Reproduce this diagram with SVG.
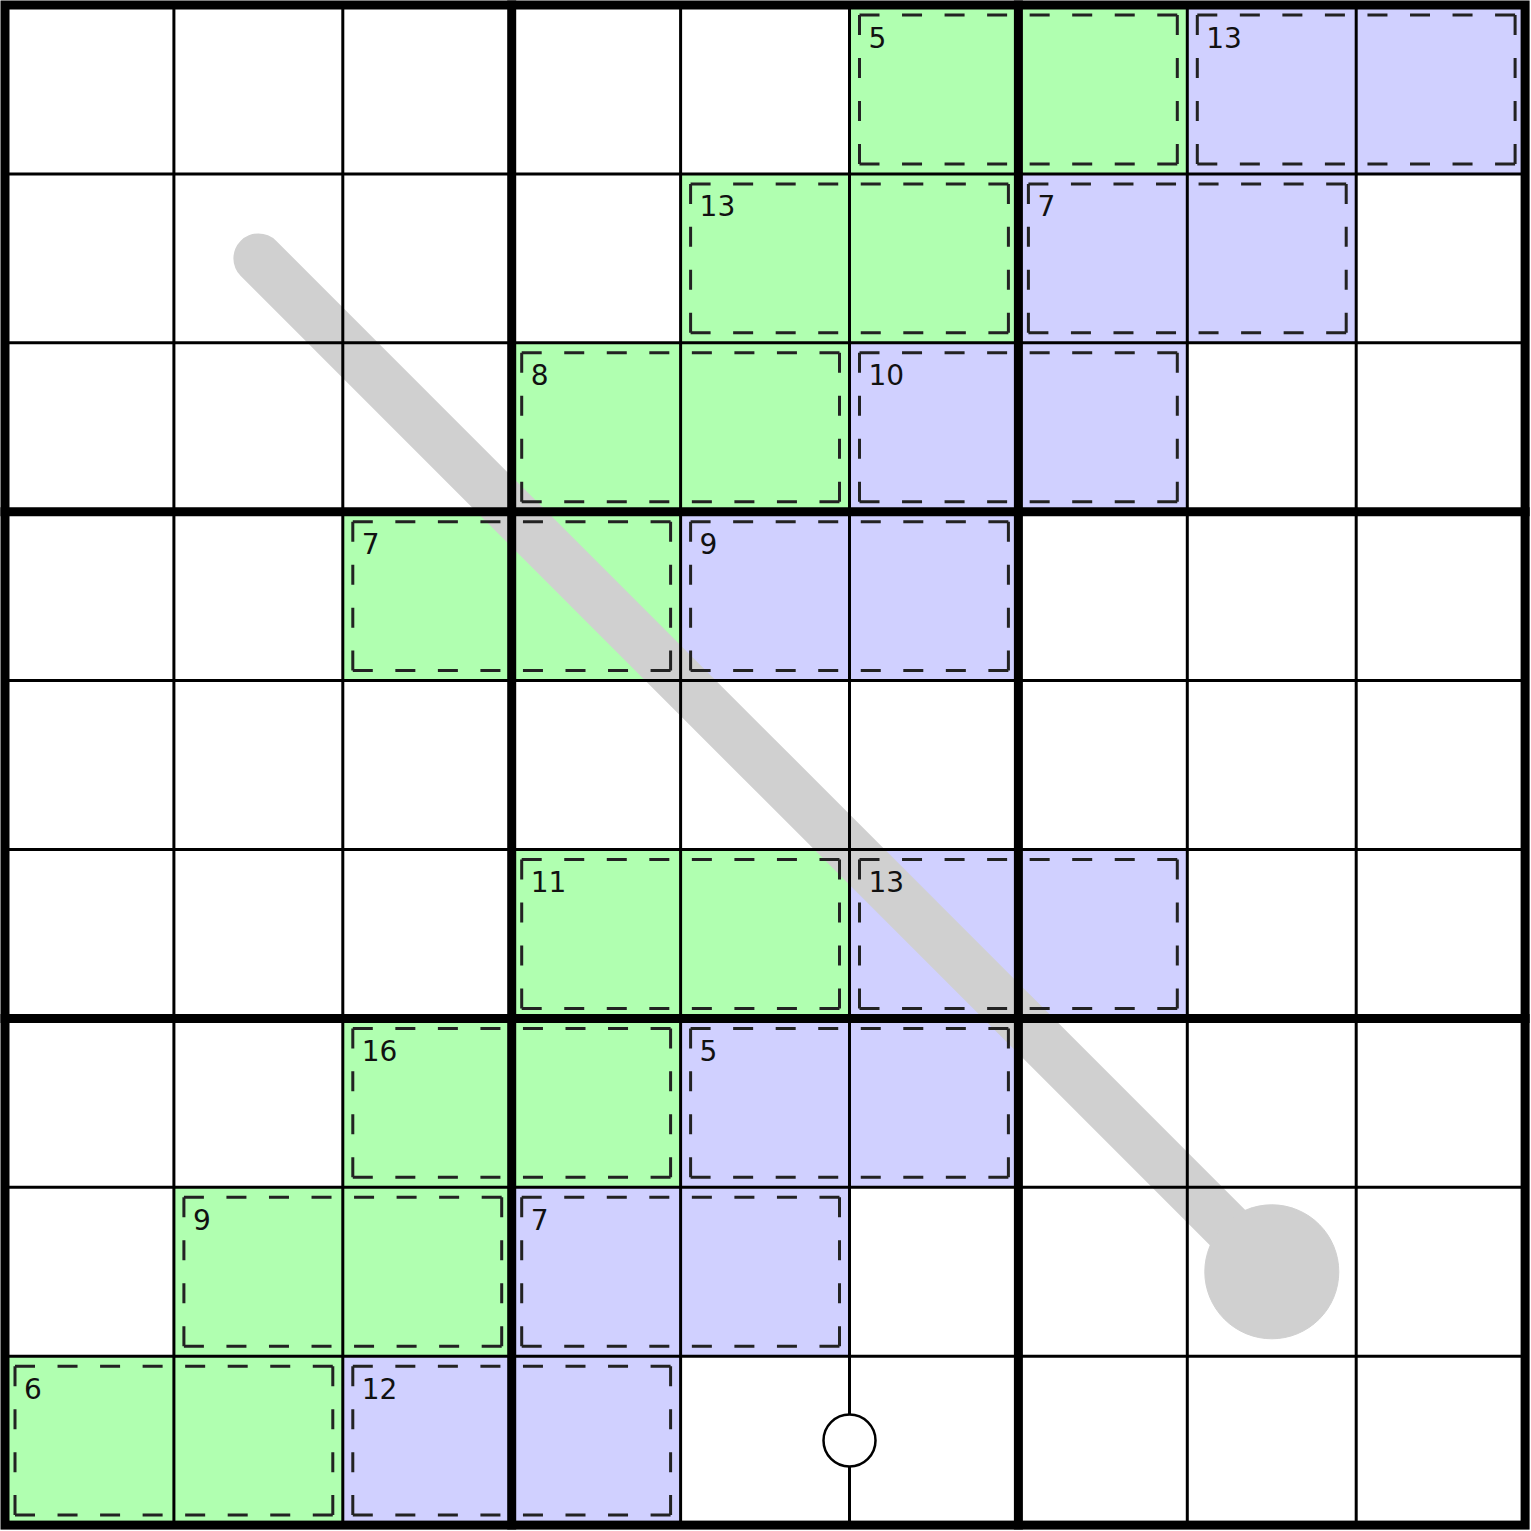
<svg xmlns="http://www.w3.org/2000/svg" xmlns:xlink="http://www.w3.org/1999/xlink" width="1531" height="1531" viewBox="0 0 1531 1531">
<style>
.g{fill:#b0ffb0}
.p{fill:#d0d0ff}
.h,.v{stroke:#222;stroke-width:3;fill:none}
.h{stroke-dasharray:20 22.54}
.v{stroke-dasharray:20 22.97}
.lbl{font-family:"DejaVu Sans","Verdana",sans-serif;font-size:28px;fill:#111}
.thin{stroke:#000;stroke-width:3}
.thick{stroke:#000;stroke-width:9;stroke-linecap:square}
.thermo{stroke:#d0d0d0;fill:#d0d0d0}
</style>
<defs>
<g id="cage">
<line class="h" x1="10" y1="10" x2="327.8" y2="10"/>
<line class="h" x1="10" y1="158.9" x2="327.8" y2="158.9"/>
<line class="v" x1="10" y1="10" x2="10" y2="158.9"/>
<line class="v" x1="327.8" y1="10" x2="327.8" y2="158.9"/>
</g>
</defs>
<rect x="0" y="0" width="1531" height="1531" fill="#fff"/>
<g id="cage-fills">
<rect class="g" x="849.5" y="5" width="337.8" height="168.9"/>
<rect class="p" x="1187.3" y="5" width="337.8" height="168.9"/>
<rect class="g" x="680.6" y="173.9" width="337.8" height="168.9"/>
<rect class="p" x="1018.4" y="173.9" width="337.8" height="168.9"/>
<rect class="g" x="511.7" y="342.8" width="337.8" height="168.9"/>
<rect class="p" x="849.5" y="342.8" width="337.8" height="168.9"/>
<rect class="g" x="342.8" y="511.7" width="337.8" height="168.9"/>
<rect class="p" x="680.6" y="511.7" width="337.8" height="168.9"/>
<rect class="g" x="511.7" y="849.5" width="337.8" height="168.9"/>
<rect class="p" x="849.5" y="849.5" width="337.8" height="168.9"/>
<rect class="g" x="342.8" y="1018.4" width="337.8" height="168.9"/>
<rect class="p" x="680.6" y="1018.4" width="337.8" height="168.9"/>
<rect class="g" x="173.9" y="1187.3" width="337.8" height="168.9"/>
<rect class="p" x="511.7" y="1187.3" width="337.8" height="168.9"/>
<rect class="g" x="5" y="1356.2" width="337.8" height="168.9"/>
<rect class="p" x="342.8" y="1356.2" width="337.8" height="168.9"/>
</g>
<g id="thermometer">
<line class="thermo" x1="258.4" y1="258.4" x2="1271.8" y2="1271.8" stroke-width="50" stroke-linecap="round"/>
<circle class="thermo" cx="1271.8" cy="1271.8" r="67" stroke="none"/>
</g>
<g id="cage-r0c5"><use xlink:href="#cage" x="849.5" y="5"/><text class="lbl" x="868.5" y="47.5">5</text></g>
<g id="cage-r0c7"><use xlink:href="#cage" x="1187.3" y="5"/><text class="lbl" x="1206.3" y="47.5">13</text></g>
<g id="cage-r1c4"><use xlink:href="#cage" x="680.6" y="173.9"/><text class="lbl" x="699.6" y="216.4">13</text></g>
<g id="cage-r1c6"><use xlink:href="#cage" x="1018.4" y="173.9"/><text class="lbl" x="1037.4" y="216.4">7</text></g>
<g id="cage-r2c3"><use xlink:href="#cage" x="511.7" y="342.8"/><text class="lbl" x="530.7" y="385.3">8</text></g>
<g id="cage-r2c5"><use xlink:href="#cage" x="849.5" y="342.8"/><text class="lbl" x="868.5" y="385.3">10</text></g>
<g id="cage-r3c2"><use xlink:href="#cage" x="342.8" y="511.7"/><text class="lbl" x="361.8" y="554.2">7</text></g>
<g id="cage-r3c4"><use xlink:href="#cage" x="680.6" y="511.7"/><text class="lbl" x="699.6" y="554.2">9</text></g>
<g id="cage-r5c3"><use xlink:href="#cage" x="511.7" y="849.5"/><text class="lbl" x="530.7" y="892">11</text></g>
<g id="cage-r5c5"><use xlink:href="#cage" x="849.5" y="849.5"/><text class="lbl" x="868.5" y="892">13</text></g>
<g id="cage-r6c2"><use xlink:href="#cage" x="342.8" y="1018.4"/><text class="lbl" x="361.8" y="1060.9">16</text></g>
<g id="cage-r6c4"><use xlink:href="#cage" x="680.6" y="1018.4"/><text class="lbl" x="699.6" y="1060.9">5</text></g>
<g id="cage-r7c1"><use xlink:href="#cage" x="173.9" y="1187.3"/><text class="lbl" x="192.9" y="1229.8">9</text></g>
<g id="cage-r7c3"><use xlink:href="#cage" x="511.7" y="1187.3"/><text class="lbl" x="530.7" y="1229.8">7</text></g>
<g id="cage-r8c0"><use xlink:href="#cage" x="5" y="1356.2"/><text class="lbl" x="24" y="1398.7">6</text></g>
<g id="cage-r8c2"><use xlink:href="#cage" x="342.8" y="1356.2"/><text class="lbl" x="361.8" y="1398.7">12</text></g>
<g id="grid">
<line class="thin" x1="173.9" y1="5" x2="173.9" y2="1525.1"/>
<line class="thin" x1="342.8" y1="5" x2="342.8" y2="1525.1"/>
<line class="thin" x1="680.6" y1="5" x2="680.6" y2="1525.1"/>
<line class="thin" x1="849.5" y1="5" x2="849.5" y2="1525.1"/>
<line class="thin" x1="1187.3" y1="5" x2="1187.3" y2="1525.1"/>
<line class="thin" x1="1356.2" y1="5" x2="1356.2" y2="1525.1"/>
<line class="thin" x1="5" y1="173.9" x2="1525.1" y2="173.9"/>
<line class="thin" x1="5" y1="342.8" x2="1525.1" y2="342.8"/>
<line class="thin" x1="5" y1="680.6" x2="1525.1" y2="680.6"/>
<line class="thin" x1="5" y1="849.5" x2="1525.1" y2="849.5"/>
<line class="thin" x1="5" y1="1187.3" x2="1525.1" y2="1187.3"/>
<line class="thin" x1="5" y1="1356.2" x2="1525.1" y2="1356.2"/>
<line class="thick" x1="511.7" y1="5" x2="511.7" y2="1525.1"/>
<line class="thick" x1="1018.4" y1="5" x2="1018.4" y2="1525.1"/>
<line class="thick" x1="5" y1="511.7" x2="1525.1" y2="511.7"/>
<line class="thick" x1="5" y1="1018.4" x2="1525.1" y2="1018.4"/>
<rect x="5" y="5" width="1520.1" height="1520.1" fill="none" stroke="#000" stroke-width="9"/>
</g>
<g id="kropki-dot">
<circle cx="849.5" cy="1440.6" r="26" fill="#fff" stroke="#000" stroke-width="2.5"/>
</g>
</svg>
